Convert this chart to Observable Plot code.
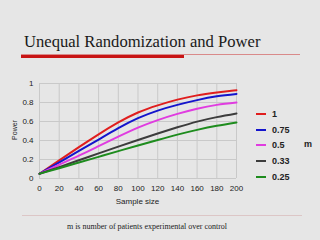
<!DOCTYPE html>
<html>
<head>
<meta charset="utf-8">
<script src="https://cdn.jsdelivr.net/npm/d3@7"></script>
<script src="https://cdn.jsdelivr.net/npm/@observablehq/plot@0.6"></script>
<style>
  html, body { margin: 0; padding: 0; }
  body { width: 320px; height: 240px; background: #e6e6e6; position: relative; overflow: hidden; font-family: "Liberation Sans", Arial, sans-serif; }
  .abs { position: absolute; white-space: nowrap; }
  #title { left: 24px; top: 32px; font-family: "Liberation Serif", "Times New Roman", serif; font-size: 16.6px; color: #1a1a1a; }
  #rule-thin { left: 21px; top: 54px; width: 279px; height: 1px; background: #d98a8a; }
  #rule-bar { left: 21px; top: 55px; width: 163px; height: 3px; background: #c81414; }
  #foot-rule { left: 22px; top: 215px; width: 280px; height: 1px; background: #dcc6c6; }
  #caption { left: 0; width: 294px; top: 222px; text-align: center; font-family: "Liberation Serif", "Times New Roman", serif; font-size: 8px; color: #222; }
  #xlabel { left: 39px; width: 197px; top: 197px; text-align: center; font-size: 8px; color: #222; }
  #ylabel { left: 14px; top: 130px; font-size: 7px; color: #222; transform: translate(-50%, -50%) rotate(-90deg); }
  #legend { left: 256px; top: 106px; font-size: 9px; font-weight: bold; color: #222; }
  .item { height: 15.8px; display: flex; align-items: center; }
  .swatch { width: 10px; height: 2px; margin-right: 6px; }
  #mlabel { left: 304px; top: 139px; font-size: 9px; font-weight: bold; color: #222; }
  #chart { position: absolute; left: 0; top: 0; }
</style>
</head>
<body>
<div id="chart"></div>
<div class="abs" id="title">Unequal Randomization and Power</div>
<div class="abs" id="rule-thin"></div>
<div class="abs" id="rule-bar"></div>
<div class="abs" id="ylabel">Power</div>
<div class="abs" id="xlabel">Sample size</div>
<div class="abs" id="legend"></div>
<div class="abs" id="mlabel">m</div>
<div class="abs" id="foot-rule"></div>
<div class="abs" id="caption">m is number of patients experimental over control</div>
<script>
// Sample sizes on the x axis
const sampleSize = [0, 20, 40, 60, 80, 100, 120, 140, 160, 180, 200];
// Allocation ratio m (experimental over control)
const ratios = ["1", "0.75", "0.5", "0.33", "0.25"];
const ratioColors = ["#e01e1e", "#1414cc", "#e03ce0", "#3c3c3c", "#1e8c1e"];
// Power for each ratio at each sample size
const powerM100 = [0.05, 0.19, 0.33, 0.465, 0.59, 0.695, 0.77, 0.83, 0.875, 0.905, 0.93];
const powerM075 = [0.05, 0.17, 0.29, 0.41, 0.53, 0.635, 0.715, 0.775, 0.825, 0.865, 0.89];
const powerM050 = [0.05, 0.145, 0.24, 0.34, 0.44, 0.535, 0.615, 0.68, 0.735, 0.775, 0.80];
const powerM033 = [0.05, 0.12, 0.192, 0.264, 0.336, 0.406, 0.474, 0.539, 0.599, 0.646, 0.685];
const powerM025 = [0.05, 0.108, 0.168, 0.228, 0.288, 0.348, 0.406, 0.462, 0.512, 0.555, 0.59];
const powerTicks = [0, 0.2, 0.4, 0.6, 0.8, 1];

const series = [powerM100, powerM075, powerM050, powerM033, powerM025];
const rows = series.flatMap((vals, i) =>
  vals.map((p, j) => ({ n: sampleSize[j], power: p, m: ratios[i] }))
);

const chart = Plot.plot({
  width: 320,
  height: 240,
  marginLeft: 39,
  marginRight: 84,
  marginTop: 83,
  marginBottom: 62,
  style: { background: "transparent", fontFamily: "'Liberation Sans', Arial, sans-serif", fontSize: "8px", color: "#222" },
  x: { domain: [0, 200] },
  y: { domain: [0, 1] },
  color: { domain: ratios, range: ratioColors },
  marks: [
    Plot.gridX(sampleSize, { stroke: "#c9c9c9", strokeOpacity: 1 }),
    Plot.gridY(powerTicks, { stroke: "#c9c9c9", strokeOpacity: 1 }),
    Plot.axisX({ ticks: sampleSize, tickSize: 0, tickPadding: 7, label: null, tickFormat: d => String(d) }),
    Plot.axisY({ ticks: powerTicks, tickSize: 0, tickPadding: 6, label: null, tickFormat: d => String(+d.toFixed(1)) }),
    Plot.line(rows, { x: "n", y: "power", z: "m", stroke: "m", strokeWidth: 2, curve: "natural" })
  ]
});
document.getElementById("chart").appendChild(chart);

// Legend for the allocation ratios
const legend = document.getElementById("legend");
ratios.forEach((r, i) => {
  const item = document.createElement("div");
  item.className = "item";
  const sw = document.createElement("span");
  sw.className = "swatch";
  sw.style.background = ratioColors[i];
  const lab = document.createElement("span");
  lab.textContent = r;
  item.appendChild(sw);
  item.appendChild(lab);
  legend.appendChild(item);
});
</script>
</body>
</html>
